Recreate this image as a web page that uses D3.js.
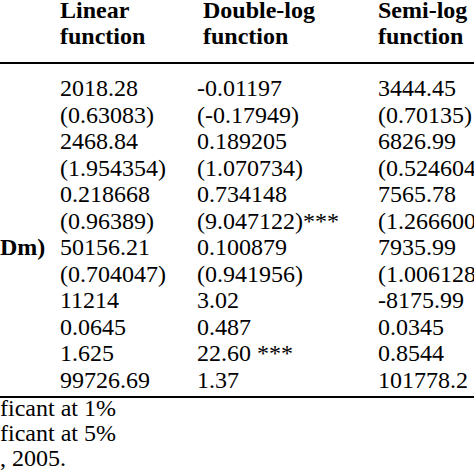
<!DOCTYPE html>
<html><head><meta charset="utf-8">
<script src="https://cdn.jsdelivr.net/npm/d3@7"></script>
<style>body{margin:0;background:#fff}svg{font-family:"Liberation Serif","DejaVu Serif",serif}</style>
</head><body>
<script>
// regression table: three model forms
const headers = [["Linear", "function"], ["Double-log", "function"], ["Semi-log", "function"]];
const rowLabels = ["", "", "", "", "", "", "Dm)", "", "", "", "", ""];
const linear = ["2018.28", "(0.63083)", "2468.84", "(1.954354)", "0.218668", "(0.96389)", "50156.21", "(0.704047)", "11214", "0.0645", "1.625", "99726.69"];
const doubleLog = ["-0.01197", "(-0.17949)", "0.189205", "(1.070734)", "0.734148", "(9.047122)***", "0.100879", "(0.941956)", "3.02", "0.487", "22.60 ***", "1.37"];
const semiLog = ["3444.45", "(0.70135)", "6826.99", "(0.524604)", "7565.78", "(1.266600", "7935.99", "(1.006128", "-8175.99", "0.0345", "0.8544", "101778.2"];
const notes = ["ficant at 1%", "ficant at 5%", ", 2005."];

const W = 474, H = 474;
const svg = d3.select("body").append("svg").attr("width", W).attr("height", H);

const cols = [linear, doubleLog, semiLog];
const colX = [60, 197, 378];
const headX = [60, 203, 378];
const y = d3.scaleBand().domain(d3.range(linear.length)).range([75, 393]);
const fs = "24px";

headers.forEach((h, i) => {
  h.forEach((t, j) => {
    svg.append("text").attr("x", headX[i]).attr("y", 18 + j * 26)
      .style("font-weight", "bold").style("font-size", fs).text(t);
  });
});

svg.append("line").attr("x1", 0).attr("x2", W).attr("y1", 63).attr("y2", 63)
  .attr("stroke", "#000").attr("stroke-width", 2);
svg.append("line").attr("x1", 0).attr("x2", W).attr("y1", 397).attr("y2", 397)
  .attr("stroke", "#000").attr("stroke-width", 2);

cols.forEach((col, i) => {
  svg.selectAll(null).data(col).join("text")
    .attr("x", colX[i])
    .attr("y", (d, k) => y(k) + y.bandwidth() / 2 + 8)
    .style("font-size", fs).text(d => d);
});

svg.selectAll(null).data(rowLabels).join("text")
  .attr("x", 0).attr("y", (d, k) => y(k) + y.bandwidth() / 2 + 8)
  .style("font-size", fs).style("font-weight", "bold").text(d => d);

svg.selectAll(null).data(notes).join("text")
  .attr("x", 0).attr("y", (d, k) => 416 + k * 25)
  .style("font-size", fs).text(d => d);
</script>
</body></html>
